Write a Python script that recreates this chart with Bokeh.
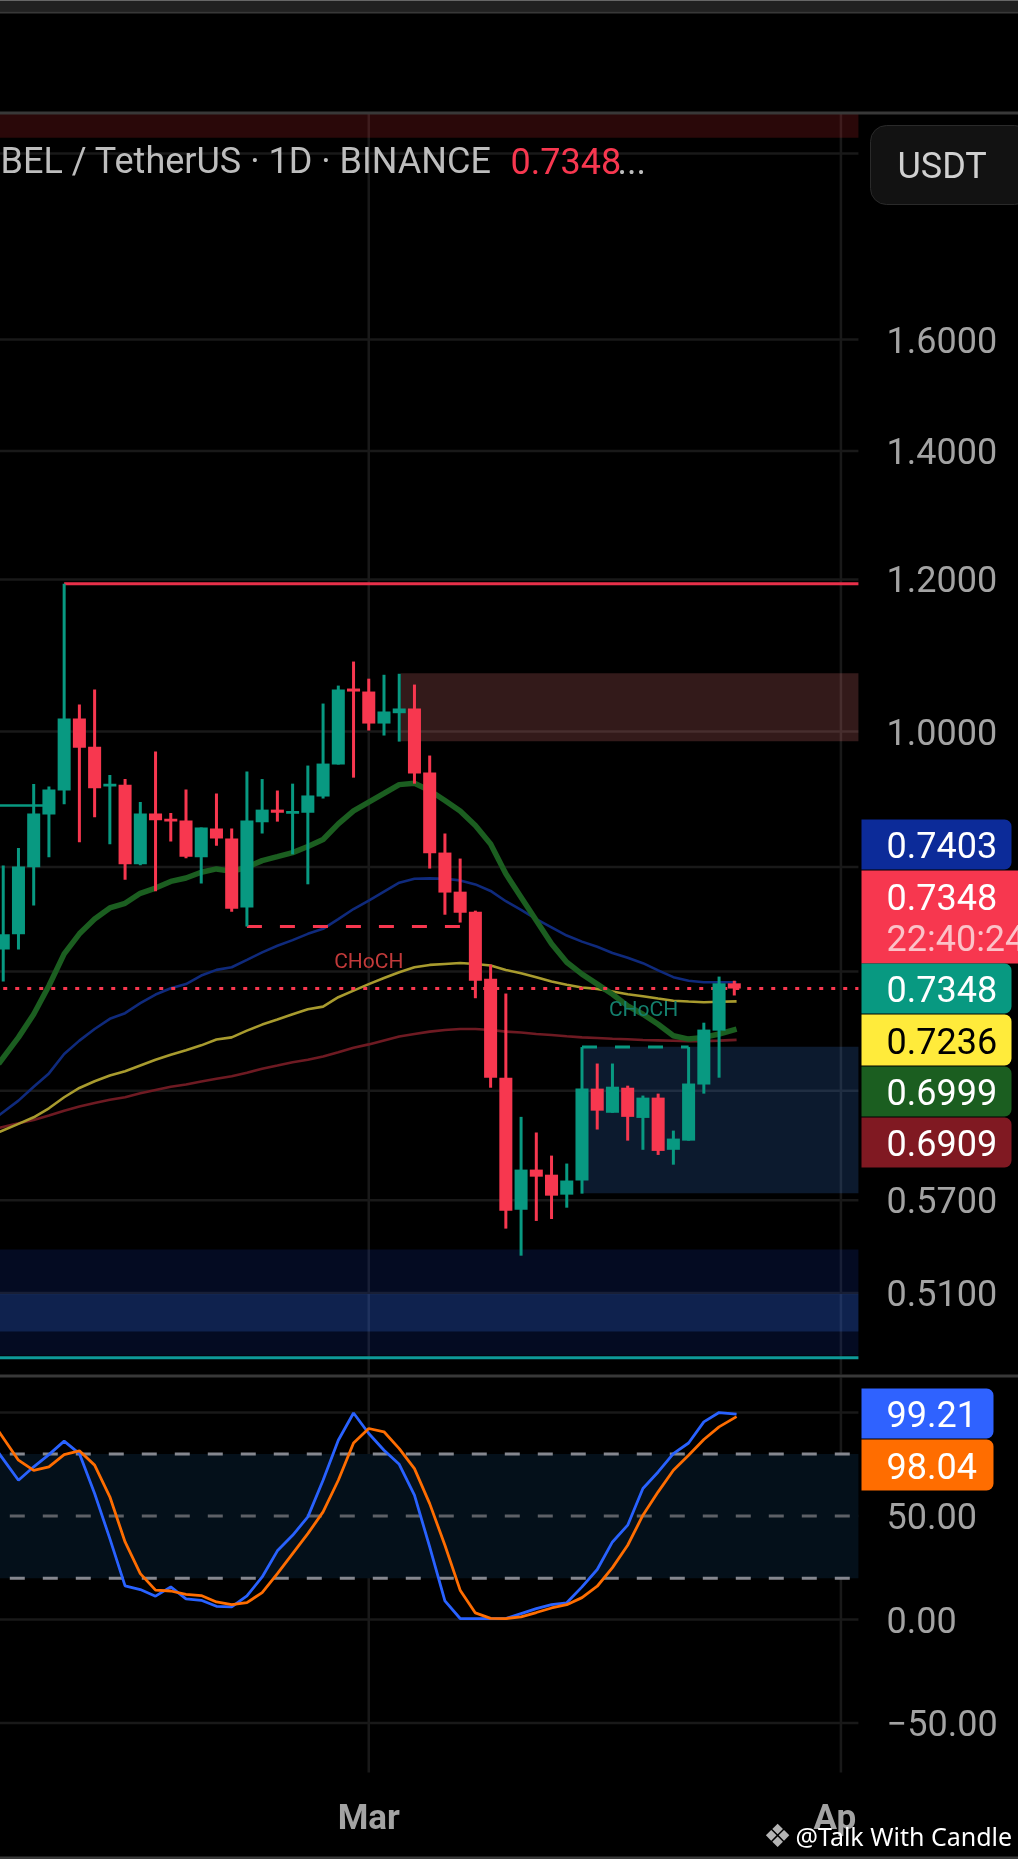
from bokeh.plotting import figure
from bokeh.models import BoxAnnotation, Label, Range1d, LinearScale
from bokeh.embed import file_html
from bokeh.resources import INLINE
from bokeh.core.properties import value

# days counted from 1 March
days = list(range(-24, 25))
opens = [.7701,.7843,.8498,.9054,.9317,1.0157,.9819,.9361,.9383,.8529,.9065,.9008,.8987,.8600,.8902,.8795,.8097,.8969,.9106,.9061,.9072,.9250,.9612,1.0529,
         1.0491,1.0096,1.0222,1.0280,.9520,.8649,.8253,.8057,.7435,.6603,.5636,.5914,.5878,.5739,.5837,.6517,.6331,.6524,.6292,.6447,.6056,.6123,.6549,.6986,.7394]
highs = [.8515,.8696,.9391,.9361,1.194,1.0329,1.0516,.9493,.9446,.9191,.9762,.9069,.9328,.8913,.9284,.8902,.9531,.9446,.9317,.9394,.9600,1.0341,1.0566,1.0875,
         1.0654,1.0704,1.0717,1.0579,.9716,.8849,.8587,.8067,.7562,.7304,.6300,.6183,.6014,.5957,.6850,.6716,.6716,.6540,.6463,.6478,.6197,.6850,.7053,.7454,.7417]
lows = [.7411,.7701,.8116,.8600,.9166,.8756,.9023,.8735,.8371,.8519,.8257,.8764,.8590,.8335,.8721,.8057,.7915,.8849,.8976,.8631,.8326,.9228,.9612,.9462,
        1.0012,.9952,.9880,.9394,.8485,.8028,.7953,.7263,.6524,.5510,.5334,.5561,.5574,.5650,.5746,.6205,.6331,.6123,.6056,.6019,.5949,.6123,.6478,.6603,.7287]
closes = [.7843,.8505,.9065,.9328,1.0157,.9808,.9343,.9394,.8529,.9065,.8991,.8976,.8607,.8913,.8795,.8086,.8987,.9106,.9072,.9091,.9262,.9623,1.0516,1.0491,
          1.0096,1.0243,1.0280,.9508,.8641,.8244,.8047,.7417,.6603,.5629,.5914,.5864,.5732,.5837,.6517,.6347,.6532,.6300,.6447,.6048,.6138,.6557,.6995,.7394,.7348]

# line positions run from the chart's left edge to just past the last bar
line_days = [-24.3] + days[1:-1] + [24.15]
ma_green = [.6714,.6930,.7125,.7372,.7660,.7846,.7986,.8093,.8139,.8237,.8289,.8355,.8389,.8447,.8481,.8457,.8498,.8566,.8607,.8649,.8712,.8786,.8952,.9092,
            .9188,.9284,.9383,.9398,.9317,.9206,.9092,.8934,.8739,.8431,.8198,.7972,.7753,.7583,.7476,.7387,.7298,.7197,.7125,.7040,.6944,.6916,.6930,.6958,.6999]
ma_navy = [.6310,.6424,.6532,.6637,.6793,.6903,.7000,.7086,.7134,.7220,.7295,.7351,.7387,.7463,.7514,.7538,.7605,.7674,.7735,.7787,.7846,.7893,.7986,.8083,
           .8165,.8253,.8342,.8382,.8385,.8382,.8365,.8325,.8260,.8159,.8074,.7986,.7908,.7830,.7773,.7725,.7668,.7624,.7575,.7510,.7449,.7417,.7403,.7403,.7403]
ma_yellow = [.6185,.6247,.6297,.6365,.6450,.6522,.6575,.6620,.6654,.6700,.6746,.6787,.6823,.6864,.6912,.6930,.6986,.7037,.7080,.7125,.7168,.7190,.7272,.7330,
             .7387,.7441,.7493,.7538,.7559,.7568,.7577,.7568,.7553,.7514,.7484,.7449,.7411,.7381,.7357,.7345,.7322,.7298,.7281,.7260,.7241,.7234,.7228,.7232,.7236]
ma_maroon = [.6217,.6252,.6277,.6310,.6347,.6378,.6406,.6431,.6450,.6481,.6507,.6531,.6549,.6573,.6594,.6615,.6642,.6674,.6700,.6727,.6746,.6773,.6808,.6844,
             .6872,.6905,.6938,.6958,.6978,.6992,.7000,.7000,.6992,.6978,.6970,.6958,.6950,.6939,.6930,.6925,.6919,.6914,.6908,.6905,.6902,.6899,.6899,.6903,.6909]

stoch_k = [80.5,67.3,73.8,79.7,86.2,80.2,60.9,39.1,16.3,14.5,11.3,15.8,10.0,9.3,6.4,6.1,11.4,20.6,33.2,40.7,49.6,67.3,86.6,99.8,
           89.9,81.8,75.0,60.1,35.1,9.0,.5,.5,.5,.5,2.9,5.3,7.2,8.1,15.8,24.2,37.5,45.6,63.3,71.3,80.2,85.3,95.5,100.0,99.21]
stoch_d = [91.0,77.0,72.1,73.8,79.7,81.5,74.6,59.3,37.5,22.2,14.2,13.8,12.2,11.6,8.5,7.2,8.2,13.0,22.2,31.9,41.5,52.0,67.3,85.3,
           92.3,90.7,82.6,72.9,56.0,35.9,14.2,3.2,.6,.5,1.3,3.4,5.6,7.2,10.6,16.1,25.1,35.9,50.4,61.7,72.1,79.4,87.0,93.1,98.04]

price_ticks = [1.6, 1.4, 1.2, 1.0, 0.57, 0.51]
price_labels = ["1.6000", "1.4000", "1.2000", "1.0000", "0.5700", "0.5100"]
price_grid = [2.0, 1.6, 1.4, 1.2, 1.0, 0.85, 0.75, 0.65, 0.57, 0.51]
stoch_ticks = [50, 0, -50]
stoch_labels = ["50.00", "0.00", "\u221250.00"]
stoch_grid = [100, 50, 0, -50]
stoch_levels = [80, 50, 20]
month_ticks = [0, 31]

# zones: left day, right day, lower price, upper price, colour, alpha
chart_left, chart_right = -25, 32.15
zone_left = [chart_left, 2.1, 14, chart_left, chart_left]
zone_low = [2.038, .9884, .5749, .4732, .4871]
zone_high = [2.098, 1.0724, .6852, .5374, .5094]
zone_color = ["#d2282d", "#ff8080", "#3c82e6", "#1437aa", "#3b83ff"]

last_price = 0.7348
GRID = "#191919"
GREY = "#a3a3a3"
RED = "#f7374f"
GREEN = "#089981"
FONT = "Roboto"
AXIS_DAY = 34.0   # where the price-axis labels start
STO = "sto"
SHIFT = 2         # the figure sits this far past the window's left edge

p = figure(width=1018 + SHIFT, height=1859, y_axis_type="log", x_axis_location=None, y_axis_location=None,
           x_range=(-24.311, 42.66), y_range=(0.2586, 2.4025), output_backend="svg", toolbar_location=None,
           background_fill_color="#000000", border_fill_color="#000000", outline_line_color=None,
           min_border=0)
p.extra_y_ranges = {STO: Range1d(-115.9, 782.1)}
p.extra_y_scales = {STO: LinearScale()}
p.grid.visible = False

# grid
n = len(price_grid)
p.segment([chart_left] * n, price_grid, [chart_right] * n, price_grid, line_color=GRID, line_width=2.5)
n = len(stoch_grid)
p.segment([chart_left] * n, stoch_grid, [chart_right] * n, stoch_grid, line_color=GRID, line_width=2.5, y_range_name=STO)
n = len(month_ticks)
p.segment(month_ticks, [2.098] * n, month_ticks, [0.4626] * n, line_color=GRID, line_width=2.5)

# zones
p.quad(left=zone_left, right=[chart_right] * 5, bottom=zone_low, top=zone_high, fill_color=zone_color,
       fill_alpha=0.2, line_color=None)

# moving averages
p.line(line_days, ma_maroon, line_color="#6e1a22", line_width=2.6)
p.line(line_days, ma_yellow, line_color="#a89b2e", line_width=2.6)
p.line(line_days, ma_navy, line_color="#0f2a7c", line_width=2.6)
p.line(line_days, ma_green, line_color="#1b5e20", line_width=5.5)

# structure lines
p.line([days[4], chart_right], [highs[4], highs[4]], line_color="#e8304a", line_width=3)
p.line([chart_left, days[3]], [0.9151, 0.9151], line_color=GREEN, line_width=2.5)
p.line([days[16], days[30]], [lows[16], lows[16]], line_color=RED, line_width=3, line_dash="15 18")
p.line([days[38], days[45]], [highs[38], highs[38]], line_color=GREEN, line_width=3, line_dash="15 18")
p.line([chart_left, chart_right], [0.4719, 0.4719], line_color="#0e9a9a", line_width=3)
p.line([-24.0, chart_right], [last_price, last_price], line_color=RED, line_width=3, line_dash="4 8")

# candles
cols = [GREEN if c >= o else RED for o, c in zip(opens, closes)]
p.segment(days, highs, days, lows, line_color=cols, line_width=3)
p.vbar(days, 0.855, [min(o, c) for o, c in zip(opens, closes)], [max(o, c) for o, c in zip(opens, closes)],
       fill_color=cols, line_color=None)

p.text([0], [0.7599], text=["CHoCH"], text_color="#c23a3a", text_font=value(FONT), text_font_size="21px",
       text_align="center", text_baseline="middle")
p.text([18.04], [0.7174], text=["CHoCH"], text_color="#14806e", text_font=value(FONT), text_font_size="21px",
       text_align="center", text_baseline="middle")

# price axis labels
p.text([AXIS_DAY] * len(price_ticks), price_ticks, text=price_labels, text_color=GREY, text_font=value(FONT),
       text_font_size="36px", text_baseline="middle")

# stochastic panel
p.segment(month_ticks, [116.9] * 2, month_ticks, [-73.9] * 2, line_color=GRID, line_width=2.5, y_range_name=STO)
p.quad(left=[chart_left], right=[chart_right], bottom=[stoch_levels[2]], top=[stoch_levels[0]],
       fill_color="#04101a", line_color=None, y_range_name=STO)
for lv, c in zip(stoch_levels, ["#85878f", "#5d6066", "#85878f"]):
    p.line([-23.57, chart_right], [lv, lv], line_color=c, line_width=3, line_dash="15 18", y_range_name=STO)
p.line(line_days, stoch_k, line_color="#2962ff", line_width=2.8, y_range_name=STO)
p.line(line_days, stoch_d, line_color="#ff6d00", line_width=2.8, y_range_name=STO)
p.text([AXIS_DAY] * 3, stoch_ticks, text=stoch_labels, text_color=GREY, text_font=value(FONT),
       text_font_size="36px", text_baseline="middle", y_range_name=STO)

# month labels under the panels
p.text([0], [-95.7], text=["Mar"], text_color=GREY, text_font=value(FONT), text_font_size="35px",
       text_font_style="bold", text_align="center", text_baseline="middle", y_range_name=STO)
p.text([29.2], [-95.7], text=["Ap"], text_color=GREY, text_font=value(FONT), text_font_size="35px",
       text_font_style="bold", text_baseline="middle", y_range_name=STO)


def box(x0, y0, x1, y1, color, radius=0, line=None):
    p.add_layout(BoxAnnotation(left=x0 + SHIFT, right=x1 + SHIFT, top=y0, bottom=y1, left_units="canvas",
                               right_units="canvas", top_units="canvas", bottom_units="canvas", fill_color=color,
                               fill_alpha=1, line_color=line, line_alpha=1 if line else 0,
                               border_radius=radius, level="overlay"))


def label(x, y, text, color, size="36px", font=FONT, align="left"):
    p.add_layout(Label(x=x + SHIFT, y=y, x_units="canvas", y_units="canvas", text=text, text_color=color,
                       text_font=font, text_font_size=size,
                       text_align=align, text_baseline="middle", level="overlay"))


R = dict(top_left=0, top_right=7, bottom_right=7, bottom_left=0)
box(-2, 0, 1018, 11, "#212121")
box(-2, 11, 1018, 13, "#383838")
box(-2, 111, 1018, 114, "#383838")
box(-2, 1374, 1018, 1377, "#383838")
box(-2, 1856, 1018, 1859, "#383838")

label(0, 160, "BEL / TetherUS \u00b7 1D \u00b7 BINANCE", "#bdbdbd")
label(510, 160, "0.7348", RED)
label(617, 160, "...", "#bdbdbd")
box(870, 125, 1030, 204, "#121212", radius=16, line="#2a2a2a")
label(897, 165, "USDT", "#d0d0d0")

box(861, 819, 1011, 869, "#0c2b99", R)
box(861, 870, 1018, 963, RED)
box(861, 963, 1011, 1013, GREEN, R)
box(861, 1014, 1011, 1065, "#ffeb3b", R)
box(861, 1066, 1011, 1116, "#1b5e20", R)
box(861, 1117, 1011, 1167, "#801922", R)
label(886, 844, "0.7403", "#ffffff")
label(886, 896, "0.7348", "#ffffff")
label(886, 938, "22:40:24", "#fbc2c8")
label(886, 988, "0.7348", "#ffffff")
label(886, 1040, "0.7236", "#000000")
label(886, 1091, "0.6999", "#ffffff")
label(886, 1142, "0.6909", "#ffffff")

box(861, 1388, 993, 1438, "#2f62ff", R)
box(861, 1439, 993, 1490, "#ff6d00", R)
label(886, 1413, "99.21", "#ffffff")
label(886, 1465, "98.04", "#ffffff")

label(777, 1835, "\u2756", "#b4b4b4", size="32px", font="DejaVu Sans", align="center")
label(795, 1835, "@Talk With Candle", "#ffffff", size="25px", font="Noto Sans")

p.styles = {"position": "fixed", "left": f"-{SHIFT}px", "top": "0"}
open("out.html", "w").write(file_html(p, INLINE))
